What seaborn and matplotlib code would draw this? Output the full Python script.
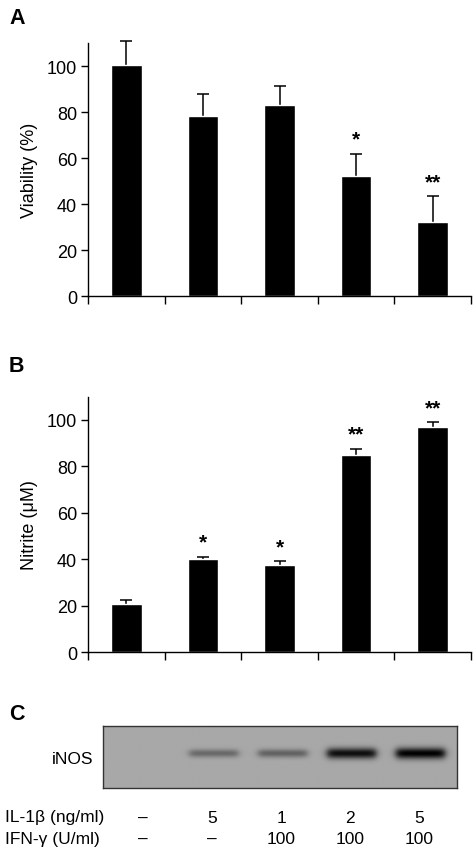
import numpy as np
import matplotlib
matplotlib.use("Agg")
import matplotlib.pyplot as plt
import seaborn as sns

# DATA
lanes = ["1", "2", "3", "4", "5"]
viability = [100.4, 78.3, 83.0, 52.3, 32.3]
viability_err = [10.3, 9.4, 8.2, 9.4, 11.0]
viability_sig = ["", "", "", "*", "**"]

nitrite = [21.0, 40.0, 37.4, 85.0, 96.9]
nitrite_err = [1.6, 1.0, 1.7, 2.6, 2.0]
nitrite_sig = ["", "*", "*", "**", "**"]

inos_band = [0.0, 0.38, 0.42, 0.92, 1.0]
il1b_labels = ["\u2013", "5", "1", "2", "5"]
ifng_labels = ["\u2013", "\u2013", "100", "100", "100"]

yticks = [0, 20, 40, 60, 80, 100]

sns.set_style("ticks")
plt.rcParams["font.family"] = ["Liberation Sans", "DejaVu Sans"]
plt.rcParams["text.color"] = "black"
plt.rcParams["axes.labelcolor"] = "black"
plt.rcParams["xtick.color"] = "black"
plt.rcParams["ytick.color"] = "black"

W, H = 474, 854
fig = plt.figure(figsize=(W / 100, H / 100), dpi=100)


def px_axes(left, top, right, bottom):
    return fig.add_axes([left / W, 1 - bottom / H, (right - left) / W, (bottom - top) / H])


def bar_panel(ax, values, errs, sig, ylabel):
    sns.barplot(x=lanes, y=values, color="black", width=0.4, saturation=1, ax=ax, zorder=2)
    # symmetric bars drawn behind, so only the upper half shows above each bar
    eb = ax.errorbar(range(len(values)), values, yerr=errs, fmt="none",
                     ecolor="black", elinewidth=1.1, capsize=4.5, capthick=1.1, zorder=1)
    for art in eb.lines[1] + eb.lines[2]:
        art.set_clip_on(False)
    for i, s in enumerate(sig):
        if s:
            ax.text(i, values[i] + errs[i] + 4, s, ha="center", va="baseline",
                    fontsize=15, fontweight="bold")
    ax.set_xlim(-0.5, len(values) - 0.5)
    ax.set_ylim(0, 110)
    ax.set_yticks(yticks)
    ax.set_xticks(np.arange(len(values) + 1) - 0.5)
    ax.set_xticklabels([])
    ax.set_xlabel("")
    ax.set_ylabel(ylabel, fontsize=13, labelpad=6)
    ax.tick_params(axis="y", labelsize=13, length=5, width=1, direction="out", pad=3)
    ax.tick_params(axis="x", length=6, width=1, direction="out")
    sns.despine(ax=ax)
    for sp in ["left", "bottom"]:
        ax.spines[sp].set_linewidth(1)
        ax.spines[sp].set_color("black")


# PANEL A
axA = px_axes(88, 44, 471, 297)
bar_panel(axA, viability, viability_err, viability_sig, "Viability (%)")
fig.text(9 / W, 1 - 18 / H, "A", fontsize=15.5, fontweight="bold", va="center", ha="left")

# PANEL B
axB = px_axes(88, 397.7, 471, 653.3)
bar_panel(axB, nitrite, nitrite_err, nitrite_sig, "Nitrite (\u03bcM)")
fig.text(9 / W, 1 - 367 / H, "B", fontsize=15.5, fontweight="bold", va="center", ha="left")

# PANEL C - western blot
axC = px_axes(103, 727, 457, 789)
x0, x1 = -0.58, 4.55
xs = np.linspace(x0, x1, 600)
ys = np.linspace(0, 1, 120)
X, Y = np.meshgrid(xs, ys)
img = np.zeros_like(X)
for i, strength in enumerate(inos_band):
    prof_x = 1 / (1 + np.exp(-(X - (i - 0.33)) / 0.03)) * 1 / (1 + np.exp((X - (i + 0.38)) / 0.03))
    prof_y = np.exp(-((Y - 0.56) / (0.05 + 0.04 * strength)) ** 2)
    img += strength * prof_x * prof_y
gray = 0.66 - 0.66 * np.clip(img, 0, 1)
axC.imshow(gray, cmap="gray", vmin=0, vmax=1, extent=[x0, x1, 0, 1], origin="lower",
           aspect="auto", interpolation="bilinear")
axC.set_xlim(x0, x1)
axC.set_ylim(0, 1)
axC.set_xticks([])
axC.set_yticks([])
for sp in axC.spines.values():
    sp.set_visible(True)
    sp.set_linewidth(1)
    sp.set_color("#333333")
fig.text(9 / W, 1 - 714 / H, "C", fontsize=15.5, fontweight="bold", va="center", ha="left")
fig.text(93 / W, 1 - 760 / H, "iNOS", fontsize=12.5, va="center", ha="right")

for i, (a, b) in enumerate(zip(il1b_labels, ifng_labels)):
    axC.text(i, -0.47, a, ha="center", va="center", fontsize=12.5,
             transform=axC.transData, clip_on=False)
    axC.text(i, -0.82, b, ha="center", va="center", fontsize=12.5,
             transform=axC.transData, clip_on=False)
fig.text(5 / W, 1 - 818 / H, "IL-1\u03b2 (ng/ml)", fontsize=12.5, va="center", ha="left")
fig.text(5 / W, 1 - 840 / H, "IFN-\u03b3 (U/ml)", fontsize=12.5, va="center", ha="left")

fig.savefig("out.png", dpi=100)
